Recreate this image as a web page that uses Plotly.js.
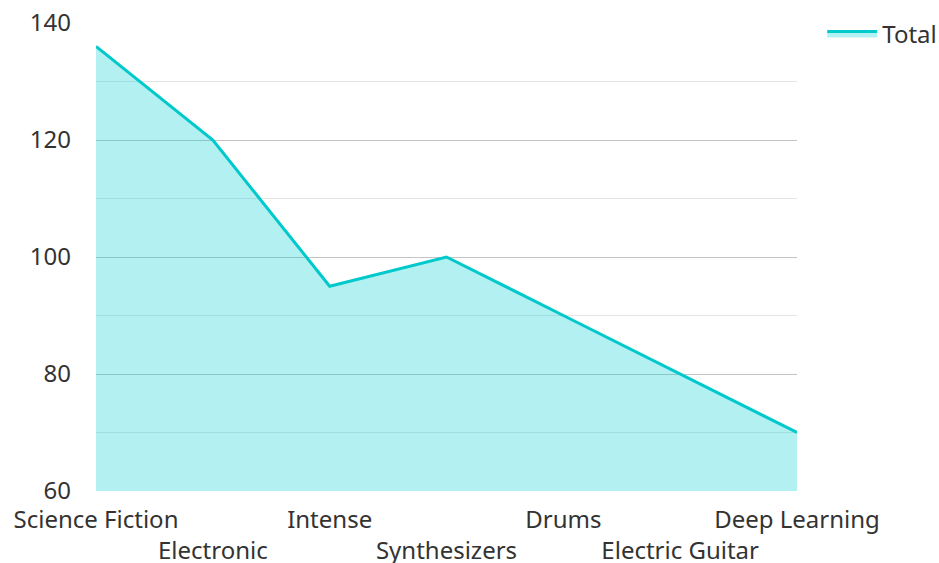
<!DOCTYPE html>
<html>
<head>
<meta charset="utf-8">
<script src="https://cdn.plot.ly/plotly-3.0.1.min.js"></script>
<style>html,body{margin:0;padding:0;background:#fff;}#chart{width:939px;height:563px;}</style>
</head>
<body>
<div id="chart"></div>
<script>
var categories = ["Science Fiction", "Electronic", "Intense", "Synthesizers", "Drums", "Electric Guitar", "Deep Learning"];
var totalValues = [136, 120, 95, 100, 90, 80, 70];
var yTickValues = [60, 80, 100, 120, 140];
var yTickLabels = ["60", "80", "100", "120", "140"];

var staggered = categories.map(function (c, i) { return i % 2 === 1 ? "<br>" + c : c; });

var trace = {
  x: categories,
  y: totalValues,
  name: "Total",
  type: "scatter",
  mode: "lines",
  fill: "tozeroy",
  fillcolor: "rgba(0,206,209,0.3)",
  line: { color: "#00c9cc", width: 3 }
};

var layout = {
  width: 939,
  height: 563,
  margin: { l: 96, r: 142, t: 23, b: 72, autoexpand: false },
  paper_bgcolor: "#fff",
  plot_bgcolor: "#fff",
  font: { family: "Noto Sans, Open Sans, sans-serif", size: 24, color: "#333" },
  showlegend: true,
  legend: { x: 1.036, y: 1.025, xanchor: "left", yanchor: "top", itemwidth: 50, font: { size: 24, color: "#333" } },
  xaxis: {
    type: "category",
    range: [0, 6],
    tickmode: "array",
    tickvals: categories,
    ticktext: staggered,
    tickangle: 0,
    showgrid: false,
    zeroline: false,
    showline: false,
    ticks: "",
    ticklabelstandoff: 12,
    fixedrange: true
  },
  yaxis: {
    range: [60, 140],
    tickmode: "array",
    tickvals: yTickValues,
    ticktext: yTickLabels,
    showgrid: true,
    gridcolor: "#c4c4c4",
    gridwidth: 1,
    minor: { dtick: 10, showgrid: true, gridcolor: "#e4e4e4", gridwidth: 1 },
    zeroline: false,
    showline: false,
    ticks: "",
    ticklabelstandoff: 24,
    fixedrange: true
  }
};

Plotly.newPlot("chart", [trace], layout, { displayModeBar: false, staticPlot: true });
</script>
</body>
</html>
